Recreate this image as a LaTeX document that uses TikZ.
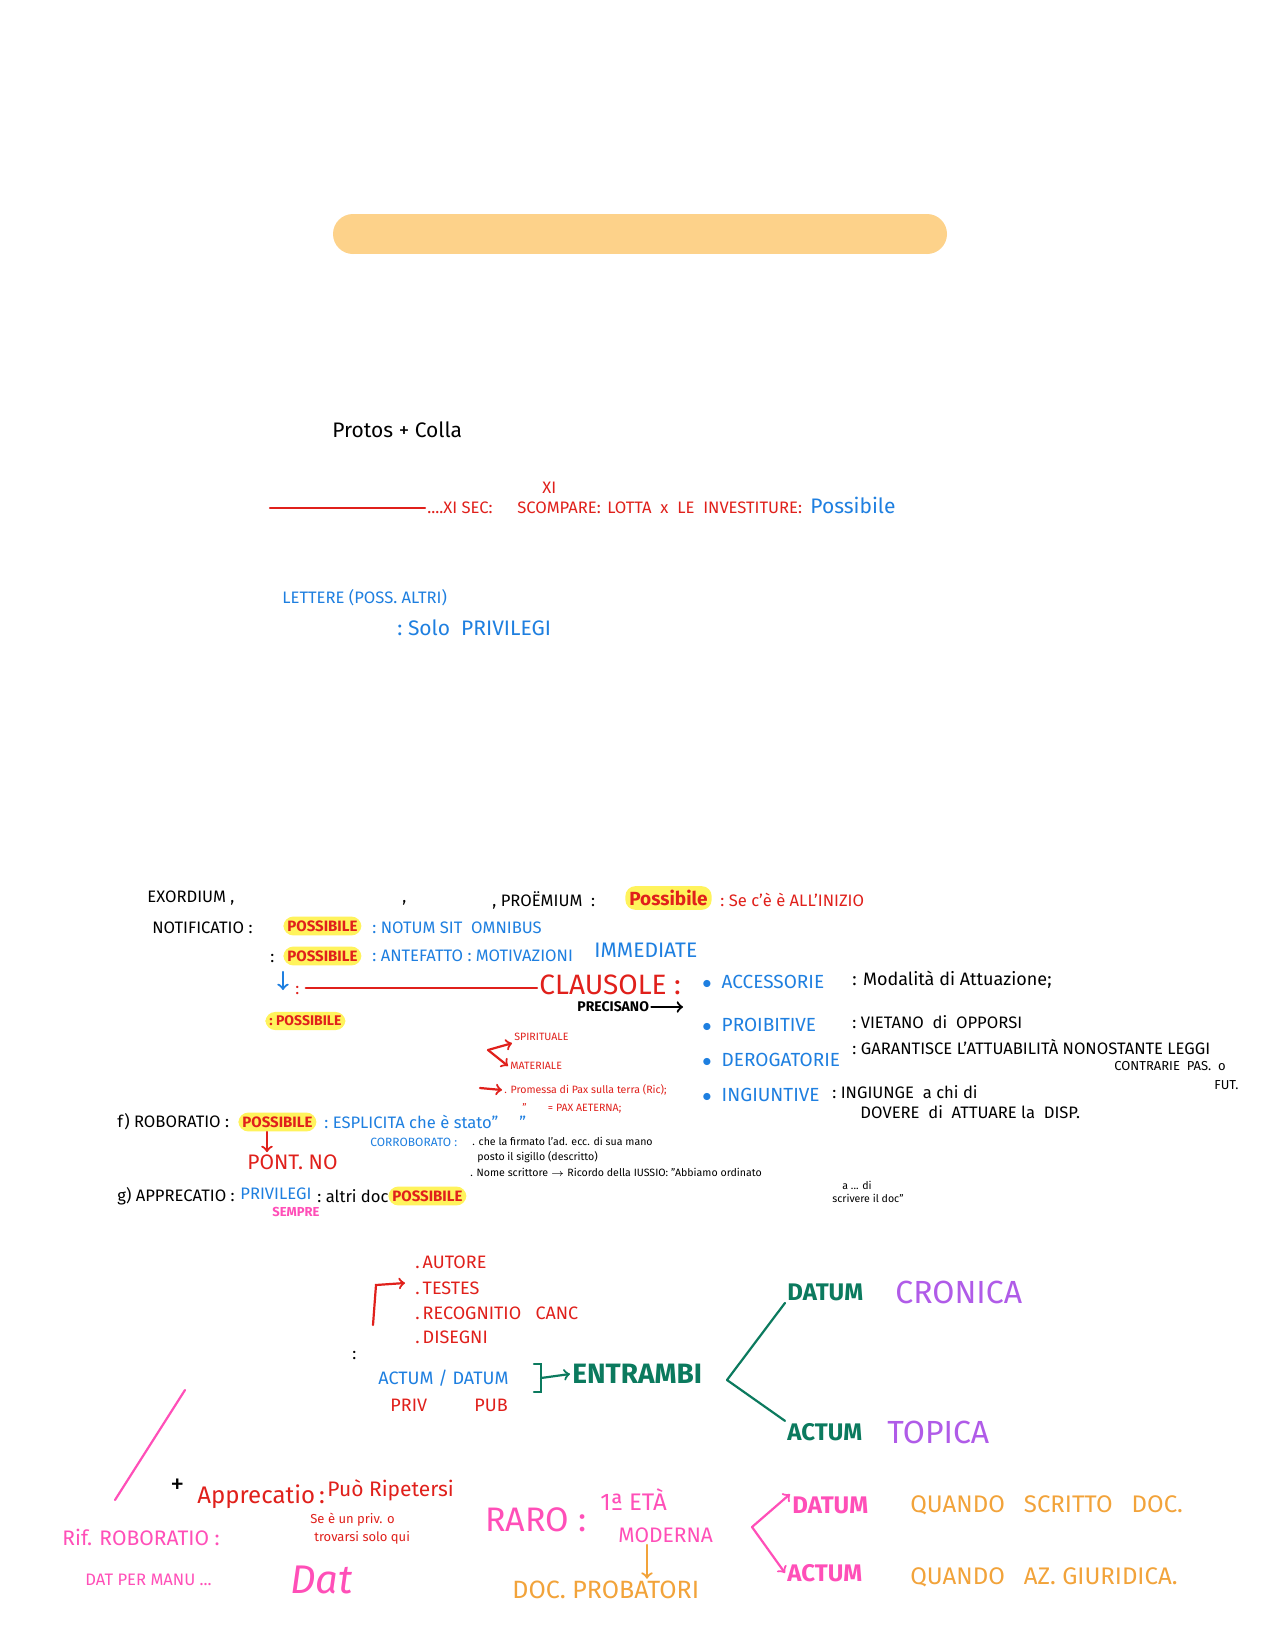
\documentclass[tikz,border=0pt]{standalone}
\usepackage{fontspec}
\setmainfont{Fira Sans}
\usetikzlibrary{positioning}
\definecolor{nred}{HTML}{E0201B}
\definecolor{nblue}{HTML}{1E7FE0}
\definecolor{ngreen}{HTML}{0B7A5E}
\definecolor{npurple}{HTML}{B05BE8}
\definecolor{norange}{HTML}{F2A33A}
\definecolor{npink}{HTML}{FF4FB8}
\definecolor{nyellow}{HTML}{FFF35C}
\definecolor{nbar}{HTML}{FDD28A}
\tikzset{
  txt/.style={anchor=west,inner sep=1pt,font=\fontsize{10.5}{12}\selectfont},
  sm/.style={txt,font=\fontsize{8.3}{9}\selectfont},
  tiny/.style={txt,font=\fontsize{5.3}{6}\selectfont},
  big/.style={txt,font=\fontsize{14}{15}\selectfont},
  hl/.style={txt,fill=nyellow,rounded corners=5pt,inner sep=2pt,text=nred,font=\fontsize{7.5}{8}\selectfont\bfseries},
  pen/.style={line width=1.1pt,line cap=round}
}
\begin{document}
\begin{tikzpicture}[x=0.5pt,y=-0.5pt]
\useasboundingbox[fill=white] (0,0) rectangle (1280,1633);
% Drawing header bar
\fill[nbar] (353,214) rectangle (927,254);
\fill[nbar] (353,234) circle (20);
\fill[nbar] (927,234) circle (20);
\node[txt] (protos) at (330,430) {Protos + Colla};
% Line XI sec
\node[sm,text=nred] (xisec) at (425,508) {....XI SEC:};
\draw[pen,nred] (270,508) -- (xisec.west);
\node[sm,text=nred] (xi) at (540,488) {XI};
\node[sm,text=nred] (scomp) at (515,508) {SCOMPARE:};
\node[sm,text=nred] (lotta) at (605,508) {LOTTA\ \ x\ \ LE\ \ INVESTITURE:};
\node[txt,text=nblue] (possxi) at (808,505) {Possibile};
\node[sm,text=nblue] (lettere) at (280,598) {LETTERE (POSS. ALTRI)};
\node[txt,text=nblue] (solo) at (395,628) {:\ Solo\ \ PRIVILEGI};
% Exordium block
\node[sm] (exord) at (145,898) {EXORDIUM ,};
\node[sm] (comma) at (400,903) {,};
\node[sm] (proem) at (490,900) {, PROËMIUM\ \ :};
\node[hl,font=\fontsize{9.5}{10}\selectfont\bfseries] (posspro) at (625,898) {Possibile};
\node[sm,text=nred] (inizio) at (718,900) {:\ Se c'è è ALL'INIZIO};
\node[sm] (notif) at (150,928) {NOTIFICATIO :};
\node[hl] (possnot) at (283,926) {POSSIBILE};
\node[sm,text=nblue] (notum) at (370,928) {:\ NOTUM SIT\ \ OMNIBUS};
\node[sm] (colon1) at (268,958) {:};
\node[hl] (possant) at (283,956) {POSSIBILE};
\node[sm,text=nblue] (antef) at (370,956) {:\ ANTEFATTO : MOTIVAZIONI};
\node[txt,text=nblue] (immed) at (592,950) {IMMEDIATE};
% Clausole
\coordinate (arrtop) at (283,972);
\coordinate (arrbot) at (283,990);
\draw[pen,nblue,->] (arrtop) -- (arrbot);
\node[sm,text=nred] (colon2) at (293,990) {:};
\node[big,text=nred] (claus) at (537,985) {CLAUSOLE :};
\draw[pen,nred] (colon2.east) ++(4,-2) coordinate (clstart) -- (claus.west |- clstart);
\node[tiny,font=\fontsize{7}{8}\selectfont\bfseries] (precis) at (575,1007) {PRECISANO};
\coordinate (precend) at (683,1007);
\draw[pen,->] (precis.east) -- (precend);
\node[hl,font=\fontsize{7}{8}\selectfont\bfseries] (posscl) at (265,1021) {:\ POSSIBILE};
% Types of clausole
\foreach \y/\n/\t in {982/acc/ACCESSORIE,1025/proib/PROIBITIVE,1060/derog/DEROGATORIE,1095/ingiu/INGIUNTIVE}
  \node[sm,text=nblue,font=\fontsize{9.5}{10}\selectfont] (\n) at (700,\y) {$\bullet$\ \ \t};
\node[sm,font=\fontsize{9}{10}\selectfont] (acct) at (850,980) {: Modalità di Attuazione;};
\node[sm] (proibt) at (850,1022) {:\ VIETANO\ \ di\ \ OPPORSI};
\node[sm] (derogt) at (850,1047) {:\ GARANTISCE L'ATTUABILITÀ NONOSTANTE LEGGI};
\node[tiny,font=\fontsize{6.5}{7}\selectfont] (contr) at (1112,1066) {CONTRARIE\ \ PAS.\ \ o};
\node[tiny,font=\fontsize{6.5}{7}\selectfont] (fut) at (1212,1085) {FUT.};
\node[sm] (ingiut) at (830,1092) {:\ INGIUNGE\ \ a chi\ di};
\node[sm] (dovere) at (858,1112) {DOVERE\ \ di\ \ ATTUARE la\ \ DISP.};
% Spirituale / materiale
\coordinate (fork) at (488,1050);
\node[tiny,text=nred] (spirit) at (512,1037) {SPIRITUALE};
\node[tiny,text=nred] (mater) at (508,1066) {MATERIALE};
\draw[pen,nred,->] (fork) -- (spirit.south west);
\draw[pen,nred,->] (fork) -- (mater.west);
\coordinate (promarr) at (480,1088);
\node[tiny,text=nred] (prom) at (502,1090) {. Promessa di Pax sulla terra (Ric);};
\draw[pen,nred,->] (promarr) -- (prom.west);
\node[tiny,text=nred] (paxaet) at (520,1108) {"\qquad= PAX AETERNA;};
% Roboratio
\node[sm] (robor) at (115,1122) {f) ROBORATIO :};
\node[hl] (possrob) at (238,1122) {POSSIBILE};
\node[sm,text=nblue] (esplic) at (322,1122) {:\ ESPLICITA che è stato" \quad"};
\node[txt,text=nred] (pont) at (245,1162) {PONT. NO};
\draw[pen,nred,->] (possrob.south -| 267,0) -- (pont.north -| 267,0);
\node[tiny,text=nblue,font=\fontsize{6}{7}\selectfont] (corrob) at (368,1142) {CORROBORATO :};
\node[tiny] (corr1) at (470,1141) {. che la firmato l'ad. ecc. di sua mano};
\node[tiny] (corr2) at (475,1157) {posto il sigillo (descritto)};
\node[tiny] (corr3) at (468,1172) {. Nome scrittore $\to$ Ricordo della IUSSIO: "Abbiamo ordinato};
\node[tiny] (corr4) at (840,1185) {a ... di};
\node[tiny] (corr5) at (830,1198) {scrivere il doc"};
% Apprecatio
\node[sm] (apprec) at (115,1196) {g) APPRECATIO :};
\node[sm,text=nblue] (privil) at (238,1194) {PRIVILEGI};
\node[sm] (altri) at (315,1196) {:\ altri doc};
\node[hl] (possapp) at (388,1196) {POSSIBILE};
\node[tiny,text=npink,font=\fontsize{6.5}{7}\selectfont\bfseries] (sempre) at (270,1212) {SEMPRE};
% Datum / actum
\foreach \y/\n/\t in {1262/aut/AUTORE,1288/test/TESTES,1313/recog/RECOGNITIO\ \ \ CANC,1337/dis/DISEGNI}
  \node[sm,text=nred,font=\fontsize{9}{10}\selectfont] (\n) at (413,\y) {.\,\t};
\coordinate (brbot) at (373,1325);
\coordinate (brtop) at (376,1285);
\coordinate (brend) at (405,1283);
\draw[pen,nred,->] (brbot) -- (brtop) -- (brend);
\node[sm] (colon3) at (350,1355) {:};
\node[sm,text=nblue,font=\fontsize{9}{10}\selectfont] (actdat) at (376,1378) {ACTUM\ /\ DATUM};
\node[sm,text=nred,font=\fontsize{9}{10}\selectfont] (priv) at (388,1405) {PRIV};
\node[sm,text=nred,font=\fontsize{9}{10}\selectfont] (pub) at (472,1405) {PUB};
\node[big,text=ngreen,font=\fontsize{14}{15}\selectfont\bfseries] (entr) at (570,1374) {ENTRAMBI};
\draw[pen,ngreen] (534,1364) -- (541,1364) -- (541,1392) -- (534,1392);
\draw[pen,ngreen,->] (541,1378) -- (entr.west);
\node[txt,text=ngreen,font=\fontsize{12}{13}\selectfont\bfseries] (datum) at (785,1292) {DATUM};
\node[big,text=npurple,font=\fontsize{16}{17}\selectfont] (cronica) at (893,1292) {CRONICA};
\node[txt,text=ngreen,font=\fontsize{12}{13}\selectfont\bfseries] (actum) at (785,1432) {ACTUM};
\node[big,text=npurple,font=\fontsize{16}{17}\selectfont] (topica) at (885,1432) {TOPICA};
\coordinate (gfork) at (727,1380);
\draw[pen,ngreen] (gfork) -- (datum.south west);
\draw[pen,ngreen] (gfork) -- (actum.north west);
% Bottom notes
\coordinate (pinka) at (115,1500);
\coordinate (pinkb) at (185,1390);
\draw[pen,npink] (pinka) -- (pinkb);
\node[big] (plus) at (168,1486) {+};
\node[txt,text=nred,font=\fontsize{12}{13}\selectfont] (apprec2) at (195,1497) {Apprecatio\,:};
\node[txt,text=nred] (puo) at (325,1490) {Può Ripetersi};
\node[tiny,text=nred,font=\fontsize{6.5}{7}\selectfont] (sepriv) at (308,1520) {Se è un priv. o};
\node[tiny,text=nred,font=\fontsize{6.5}{7}\selectfont] (trov) at (312,1538) {trovarsi\ solo\ qui};
\node[txt,text=npink] (rif) at (60,1537) {Rif. ROBORATIO :};
\node[sm,text=npink] (datman) at (83,1580) {DAT PER MANU ...};
\node[big,text=npink,font=\fontsize{20}{22}\selectfont\itshape] (dat) at (288,1580) {Dat};
\node[big,text=npink,font=\fontsize{17}{19}\selectfont] (raro) at (483,1520) {RARO :};
\node[txt,text=npink,font=\fontsize{12}{13}\selectfont] (eta) at (598,1500) {1ª ETÀ};
\node[txt,text=npink] (moder) at (616,1535) {MODERNA};
\node[txt,text=norange,font=\fontsize{12.5}{13}\selectfont] (probat) at (510,1590) {DOC.\ PROBATORI};
\draw[pen,norange,->] (moder.south -| 647,0) -- (probat.north -| 647,0);
\node[txt,text=npink,font=\fontsize{12}{13}\selectfont\bfseries] (datum2) at (790,1505) {DATUM};
\node[txt,text=norange,font=\fontsize{12}{13}\selectfont] (quando1) at (908,1505) {QUANDO\ \ \ SCRITTO\ \ \ DOC.};
\node[txt,text=npink,font=\fontsize{12}{13}\selectfont\bfseries] (actum2) at (785,1573) {ACTUM};
\node[txt,text=norange,font=\fontsize{12}{13}\selectfont] (quando2) at (908,1577) {QUANDO\ \ \ AZ.\ GIURIDICA.};
\coordinate (pfork) at (752,1527);
\draw[pen,npink,->] (pfork) -- (datum2.north west);
\draw[pen,npink,->] (pfork) -- (actum2.west);
\end{tikzpicture}
\end{document}
